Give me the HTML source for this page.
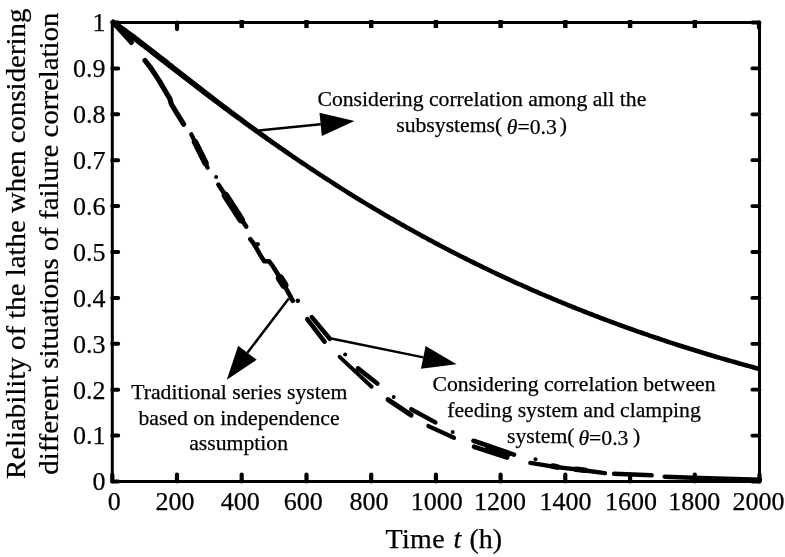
<!DOCTYPE html>
<html><head><meta charset="utf-8"><title>Reliability of the lathe</title>
<style>html,body{margin:0;padding:0;background:#fff}svg{display:block}text{font-family:"Liberation Serif",serif;fill:#000;stroke:#000;stroke-width:0.25px}</style></head>
<body>
<svg width="785" height="557" viewBox="0 0 785 557">
<rect width="785" height="557" fill="#fff"/>
<rect x="112.3" y="22.5" width="647.2" height="459.0" fill="none" stroke="#000" stroke-width="3"/>
<path d="M112.3 481.5 V474.6 M177.0 481.5 V474.6 M177.0 22.5 V29.1 M241.7 481.5 V474.6 M306.5 481.5 V474.6 M371.2 481.5 V474.6 M435.9 481.5 V474.6 M500.6 481.5 V474.6 M565.3 481.5 V474.6 M630.1 481.5 V474.6 M694.8 481.5 V474.6 M759.5 481.5 V474.6 M759.0 22.5 V27.7" stroke="#000" stroke-width="4.2" stroke-linecap="round" fill="none"/>
<path d="M112.3 481.5 H118.2 M112.3 435.6 H118.2 M112.3 389.7 H118.2 M112.3 343.8 H118.2 M112.3 297.9 H118.2 M112.3 252.0 H118.2 M112.3 206.1 H118.2 M112.3 160.2 H118.2 M112.3 114.3 H118.2 M112.3 68.4 H118.2 M112.3 22.5 H118.2" stroke="#000" stroke-width="4" stroke-linecap="round" fill="none"/>
<path d="M759.5 481.5 H752.3 M759.5 435.6 H752.3 M759.5 389.7 H752.3 M759.5 343.8 H752.3 M759.5 297.9 H752.3 M759.5 252.0 H752.3 M759.5 206.1 H752.3 M759.5 160.2 H752.3 M759.5 114.3 H752.3 M759.5 68.4 H752.3 M759.5 22.5 H752.3" stroke="#000" stroke-width="3.8" stroke-linecap="round" fill="none"/>
<path d="M241.7 20.1 V27.9 M306.5 20.1 V27.9 M371.2 20.1 V27.9 M435.9 20.1 V27.9 M500.6 20.1 V27.9 M565.3 20.1 V27.9 M630.1 20.1 V27.9 M694.8 20.1 V27.9" stroke="#000" stroke-width="4.4" fill="none"/>
<g font-size="26px" text-anchor="middle">
<text x="114.3" y="510.1">0</text>
<text x="174.9" y="510.1">200</text>
<text x="240.2" y="510.1">400</text>
<text x="303.3" y="510.1">600</text>
<text x="369.1" y="510.1">800</text>
<text x="436.8" y="510.1">1000</text>
<text x="499.9" y="510.1">1200</text>
<text x="565.6" y="510.1">1400</text>
<text x="631.0" y="510.1">1600</text>
<text x="694.2" y="510.1">1800</text>
<text x="758.6" y="510.1">2000</text>
</g>
<g font-size="26px" text-anchor="end">
<text x="105.4" y="490.3">0</text>
<text x="105.4" y="444.4">0.1</text>
<text x="105.4" y="398.5">0.2</text>
<text x="105.4" y="352.6">0.3</text>
<text x="105.4" y="306.7">0.4</text>
<text x="105.4" y="260.8">0.5</text>
<text x="105.4" y="214.9">0.6</text>
<text x="105.4" y="169.0">0.7</text>
<text x="105.4" y="123.1">0.8</text>
<text x="105.4" y="77.2">0.9</text>
<text x="105.4" y="31.3">1</text>
</g>
<text x="443.8" y="547.6" font-size="28px" word-spacing="1.3px" text-anchor="middle"><tspan letter-spacing="0.4px">Time</tspan> <tspan font-style="italic">t</tspan> (h)</text>
<text transform="translate(24.8 243.85) rotate(-90)" font-size="28px" text-anchor="middle" textLength="470.4" lengthAdjust="spacingAndGlyphs">Reliability of the lathe when considering</text>
<text transform="translate(58.0 243.65) rotate(-90)" font-size="28px" text-anchor="middle" textLength="462.2" lengthAdjust="spacingAndGlyphs">different situations of failure correlation</text>
<polygon points="110.9,25.1 112.4,25.9 113.9,26.9 115.5,27.9 117.1,29.0 118.7,30.1 120.3,31.2 121.9,32.4 123.5,33.5 125.1,34.7 126.7,35.9 128.3,37.1 129.9,38.3 131.6,39.5 133.2,40.7 134.8,42.0 136.4,43.2 138.0,44.4 139.6,45.7 141.2,46.9 142.9,48.1 144.5,49.4 146.1,50.6 147.7,51.9 149.3,53.1 150.9,54.4 152.6,55.7 154.2,56.9 155.8,58.2 157.4,59.4 159.0,60.7 160.6,62.0 162.3,63.2 163.9,64.5 165.5,65.8 167.1,67.0 168.7,68.3 170.4,69.5 172.0,70.8 173.6,72.1 175.2,73.3 176.9,74.6 178.5,75.8 180.1,77.1 181.7,78.3 183.3,79.6 185.0,80.8 186.6,82.1 188.2,83.3 189.8,84.6 191.5,85.8 193.1,87.1 194.7,88.3 196.3,89.5 198.0,90.8 199.6,92.0 201.2,93.3 202.8,94.5 204.5,95.7 206.1,97.0 207.7,98.2 209.3,99.4 211.0,100.6 212.6,101.9 214.2,103.1 215.8,104.3 217.5,105.5 219.1,106.7 220.7,107.9 222.3,109.2 224.0,110.4 225.6,111.6 227.2,112.8 228.8,114.0 230.5,115.2 232.1,116.4 233.7,117.6 235.3,118.8 237.0,119.9 238.6,121.1 240.2,122.3 241.8,123.5 243.5,124.7 245.1,125.9 246.7,127.0 248.3,128.2 250.0,129.4 251.6,130.6 253.2,131.7 254.8,132.9 256.5,134.0 258.1,135.2 259.7,136.4 261.3,137.5 263.0,138.7 264.6,139.8 266.2,141.0 267.8,142.1 269.5,143.2 271.1,144.4 272.7,145.5 274.3,146.6 276.0,147.8 277.6,148.9 279.2,150.0 280.8,151.1 282.5,152.3 284.1,153.4 285.7,154.5 287.3,155.6 289.0,156.7 290.6,157.8 292.2,158.9 293.8,160.0 295.5,161.1 297.1,162.2 298.7,163.3 300.3,164.4 301.9,165.5 303.6,166.6 305.2,167.6 306.8,168.7 308.4,169.8 310.0,170.9 311.7,172.0 313.3,173.0 314.9,174.1 316.5,175.2 318.1,176.2 319.8,177.3 321.4,178.3 323.0,179.4 324.6,180.4 326.2,181.5 327.9,182.5 329.5,183.6 331.1,184.6 332.7,185.7 334.3,186.7 336.0,187.7 337.6,188.8 339.2,189.8 340.8,190.8 342.4,191.8 344.1,192.8 345.7,193.9 347.3,194.9 348.9,195.9 350.6,196.9 352.2,197.9 353.8,198.9 355.4,199.9 357.0,200.9 358.7,201.9 360.3,202.9 361.9,203.8 363.5,204.8 365.1,205.8 366.8,206.8 368.4,207.8 370.0,208.7 371.6,209.7 373.2,210.7 374.9,211.6 376.5,212.6 378.1,213.6 379.7,214.5 381.3,215.5 383.0,216.4 384.6,217.4 386.2,218.3 387.8,219.2 389.4,220.2 391.1,221.1 392.7,222.1 394.3,223.0 395.9,223.9 397.5,224.8 399.2,225.8 400.8,226.7 402.4,227.6 404.0,228.5 405.7,229.4 407.3,230.3 408.9,231.2 410.5,232.1 412.1,233.0 413.8,233.9 415.4,234.8 417.0,235.7 418.6,236.6 420.2,237.5 421.9,238.4 423.5,239.3 425.1,240.1 426.7,241.0 428.3,241.9 430.0,242.8 431.6,243.6 433.2,244.5 434.8,245.4 436.4,246.2 438.1,247.1 439.7,247.9 441.3,248.8 442.9,249.6 444.5,250.5 446.2,251.3 447.8,252.2 449.4,253.0 451.0,253.8 452.6,254.7 454.3,255.5 455.9,256.3 457.5,257.1 459.1,258.0 460.8,258.8 462.4,259.6 464.0,260.4 465.6,261.2 467.2,262.0 468.9,262.8 470.5,263.7 472.1,264.5 473.7,265.3 475.3,266.0 477.0,266.8 478.6,267.6 480.2,268.4 481.8,269.2 483.4,270.0 485.1,270.8 486.7,271.6 488.3,272.3 489.9,273.1 491.5,273.9 493.2,274.6 494.8,275.4 496.4,276.2 498.0,276.9 499.6,277.7 501.3,278.5 502.9,279.2 504.5,280.0 506.1,280.7 507.7,281.5 509.4,282.2 511.0,282.9 512.6,283.7 514.2,284.4 515.9,285.2 517.5,285.9 519.1,286.6 520.7,287.3 522.3,288.1 524.0,288.8 525.6,289.5 527.2,290.2 528.8,290.9 530.4,291.7 532.1,292.4 533.7,293.1 535.3,293.8 536.9,294.5 538.5,295.2 540.2,295.9 541.8,296.6 543.4,297.3 545.0,298.0 546.6,298.7 548.3,299.3 549.9,300.0 551.5,300.7 553.1,301.4 554.7,302.1 556.4,302.7 558.0,303.4 559.6,304.1 561.2,304.8 562.8,305.4 564.5,306.1 566.1,306.8 567.7,307.4 569.3,308.1 571.0,308.7 572.6,309.4 574.2,310.0 575.8,310.7 577.4,311.3 579.1,312.0 580.7,312.6 582.3,313.3 583.9,313.9 585.5,314.5 587.2,315.2 588.8,315.8 590.4,316.4 592.0,317.1 593.6,317.7 595.3,318.3 596.9,318.9 598.5,319.5 600.1,320.2 601.7,320.8 603.4,321.4 605.0,322.0 606.6,322.6 608.2,323.2 609.8,323.8 611.5,324.4 613.1,325.0 614.7,325.6 616.3,326.2 617.9,326.8 619.6,327.4 621.2,328.0 622.8,328.6 624.4,329.2 626.0,329.7 627.7,330.3 629.3,330.9 630.9,331.5 632.5,332.1 634.1,332.6 635.8,333.2 637.4,333.8 639.0,334.3 640.6,334.9 642.2,335.5 643.9,336.0 645.5,336.6 647.1,337.1 648.7,337.7 650.4,338.3 652.0,338.8 653.6,339.4 655.2,339.9 656.8,340.5 658.5,341.0 660.1,341.5 661.7,342.1 663.3,342.6 664.9,343.2 666.6,343.7 668.2,344.2 669.8,344.8 671.4,345.3 673.0,345.8 674.7,346.3 676.3,346.9 677.9,347.4 679.5,347.9 681.1,348.4 682.8,348.9 684.4,349.5 686.0,350.0 687.6,350.5 689.2,351.0 690.9,351.5 692.5,352.0 694.1,352.5 695.7,353.0 697.3,353.5 699.0,354.0 700.6,354.5 702.2,355.0 703.8,355.5 705.4,356.0 707.1,356.5 708.7,357.0 710.3,357.4 711.9,357.9 713.5,358.4 715.2,358.9 716.8,359.4 718.4,359.8 720.0,360.3 721.6,360.8 723.3,361.3 724.9,361.7 726.5,362.2 728.1,362.7 729.7,363.1 731.4,363.6 733.0,364.1 734.6,364.5 736.2,365.0 737.8,365.4 739.5,365.9 741.1,366.3 742.7,366.8 744.3,367.3 745.9,367.7 747.6,368.1 749.2,368.6 750.8,369.0 752.4,369.5 754.0,369.9 755.7,370.4 757.3,370.8 758.9,371.2 760.1,366.8 758.5,366.4 756.9,365.9 755.2,365.5 753.6,365.0 752.0,364.6 750.4,364.2 748.8,363.7 747.2,363.3 745.6,362.8 743.9,362.4 742.3,361.9 740.7,361.5 739.1,361.0 737.5,360.6 735.9,360.1 734.2,359.6 732.6,359.2 731.0,358.7 729.4,358.3 727.8,357.8 726.2,357.3 724.5,356.8 722.9,356.4 721.3,355.9 719.7,355.4 718.1,355.0 716.5,354.5 714.9,354.0 713.2,353.5 711.6,353.0 710.0,352.5 708.4,352.1 706.8,351.6 705.2,351.1 703.5,350.6 701.9,350.1 700.3,349.6 698.7,349.1 697.1,348.6 695.5,348.1 693.8,347.6 692.2,347.1 690.6,346.6 689.0,346.1 687.4,345.6 685.8,345.1 684.2,344.6 682.5,344.0 680.9,343.5 679.3,343.0 677.7,342.5 676.1,342.0 674.5,341.4 672.8,340.9 671.2,340.4 669.6,339.9 668.0,339.3 666.4,338.8 664.8,338.3 663.1,337.7 661.5,337.2 659.9,336.6 658.3,336.1 656.7,335.5 655.1,335.0 653.5,334.5 651.8,333.9 650.2,333.4 648.6,332.8 647.0,332.2 645.4,331.7 643.8,331.1 642.1,330.6 640.5,330.0 638.9,329.4 637.3,328.9 635.7,328.3 634.1,327.7 632.4,327.1 630.8,326.6 629.2,326.0 627.6,325.4 626.0,324.8 624.4,324.2 622.8,323.7 621.1,323.1 619.5,322.5 617.9,321.9 616.3,321.3 614.7,320.7 613.1,320.1 611.4,319.5 609.8,318.9 608.2,318.3 606.6,317.7 605.0,317.1 603.4,316.5 601.8,315.9 600.1,315.2 598.5,314.6 596.9,314.0 595.3,313.4 593.7,312.8 592.1,312.1 590.4,311.5 588.8,310.9 587.2,310.2 585.6,309.6 584.0,309.0 582.4,308.3 580.8,307.7 579.1,307.1 577.5,306.4 575.9,305.8 574.3,305.1 572.7,304.5 571.1,303.8 569.4,303.2 567.8,302.5 566.2,301.8 564.6,301.2 563.0,300.5 561.4,299.8 559.7,299.2 558.1,298.5 556.5,297.8 554.9,297.2 553.3,296.5 551.7,295.8 550.1,295.1 548.4,294.4 546.8,293.7 545.2,293.0 543.6,292.4 542.0,291.7 540.4,291.0 538.7,290.3 537.1,289.6 535.5,288.9 533.9,288.2 532.3,287.4 530.7,286.7 529.1,286.0 527.4,285.3 525.8,284.6 524.2,283.9 522.6,283.1 521.0,282.4 519.4,281.7 517.7,281.0 516.1,280.2 514.5,279.5 512.9,278.8 511.3,278.0 509.7,277.3 508.1,276.5 506.4,275.8 504.8,275.0 503.2,274.3 501.6,273.5 500.0,272.8 498.4,272.0 496.7,271.3 495.1,270.5 493.5,269.7 491.9,269.0 490.3,268.2 488.7,267.4 487.1,266.6 485.4,265.9 483.8,265.1 482.2,264.3 480.6,263.5 479.0,262.7 477.4,261.9 475.7,261.1 474.1,260.3 472.5,259.5 470.9,258.7 469.3,257.9 467.7,257.1 466.1,256.3 464.4,255.5 462.8,254.7 461.2,253.9 459.6,253.0 458.0,252.2 456.4,251.4 454.7,250.6 453.1,249.7 451.5,248.9 449.9,248.1 448.3,247.2 446.7,246.4 445.1,245.5 443.4,244.7 441.8,243.9 440.2,243.0 438.6,242.1 437.0,241.3 435.4,240.4 433.7,239.6 432.1,238.7 430.5,237.8 428.9,237.0 427.3,236.1 425.7,235.2 424.1,234.3 422.4,233.5 420.8,232.6 419.2,231.7 417.6,230.8 416.0,229.9 414.4,229.0 412.7,228.1 411.1,227.2 409.5,226.3 407.9,225.4 406.3,224.5 404.7,223.6 403.1,222.7 401.4,221.8 399.8,220.8 398.2,219.9 396.6,219.0 395.0,218.1 393.4,217.1 391.7,216.2 390.1,215.3 388.5,214.3 386.9,213.4 385.3,212.4 383.7,211.5 382.1,210.5 380.4,209.6 378.8,208.6 377.2,207.7 375.6,206.7 374.0,205.8 372.4,204.8 370.7,203.8 369.1,202.9 367.5,201.9 365.9,200.9 364.3,199.9 362.7,198.9 361.1,197.9 359.4,197.0 357.8,196.0 356.2,195.0 354.6,194.0 353.0,193.0 351.4,192.0 349.7,191.0 348.1,190.0 346.5,188.9 344.9,187.9 343.3,186.9 341.7,185.9 340.1,184.9 338.4,183.8 336.8,182.8 335.2,181.8 333.6,180.7 332.0,179.7 330.4,178.7 328.7,177.6 327.1,176.6 325.5,175.5 323.9,174.5 322.3,173.4 320.7,172.4 319.0,171.3 317.4,170.2 315.8,169.2 314.2,168.1 312.6,167.0 311.0,166.0 309.4,164.9 307.7,163.8 306.1,162.7 304.5,161.6 302.9,160.6 301.3,159.5 299.7,158.4 298.1,157.3 296.4,156.2 294.8,155.0 293.2,153.9 291.6,152.8 290.0,151.7 288.4,150.6 286.8,149.5 285.2,148.3 283.6,147.2 281.9,146.1 280.3,144.9 278.7,143.8 277.1,142.7 275.5,141.5 273.9,140.4 272.3,139.2 270.7,138.1 269.1,136.9 267.4,135.8 265.8,134.6 264.2,133.5 262.6,132.3 261.0,131.1 259.4,130.0 257.8,128.8 256.2,127.6 254.6,126.4 252.9,125.3 251.3,124.1 249.7,122.9 248.1,121.7 246.5,120.5 244.9,119.3 243.3,118.1 241.7,117.0 240.1,115.8 238.4,114.6 236.8,113.4 235.2,112.1 233.6,110.9 232.0,109.7 230.4,108.5 228.8,107.3 227.2,106.1 225.6,104.9 223.9,103.6 222.3,102.4 220.7,101.2 219.1,100.0 217.5,98.7 215.9,97.5 214.3,96.3 212.7,95.0 211.0,93.8 209.4,92.6 207.8,91.3 206.2,90.1 204.6,88.8 203.0,87.6 201.4,86.3 199.8,85.1 198.2,83.8 196.5,82.6 194.9,81.3 193.3,80.1 191.7,78.8 190.1,77.6 188.5,76.3 186.9,75.0 185.3,73.8 183.6,72.5 182.0,71.2 180.4,70.0 178.8,68.7 177.2,67.4 175.6,66.2 174.0,64.9 172.4,63.6 170.7,62.4 169.1,61.1 167.5,59.8 165.9,58.6 164.3,57.3 162.7,56.1 161.0,54.8 159.4,53.5 157.8,52.3 156.2,51.0 154.6,49.7 152.9,48.5 151.3,47.2 149.7,46.0 148.1,44.7 146.5,43.5 144.8,42.2 143.2,41.0 141.6,39.7 140.0,38.5 138.4,37.3 136.7,36.0 135.1,34.8 133.5,33.6 131.9,32.4 130.2,31.2 128.6,30.0 127.0,28.8 125.3,27.6 123.7,26.4 122.1,25.3 120.4,24.1 118.8,23.0 117.1,21.9 115.4,20.8 113.7,19.9" fill="#000"/>
<polyline points="113,22 131.5,42.5" fill="none" stroke="#000" stroke-width="5.0" stroke-linecap="round" stroke-linejoin="round"/>
<polyline points="145,60.5 150,66.8 159.2,80.6 166.3,92.8 169.8,98.5 171.5,104.5 183.6,124.2" fill="none" stroke="#000" stroke-width="5.2" stroke-linecap="round" stroke-linejoin="round"/>
<polyline points="191.3,134.4 207.6,167.6" fill="none" stroke="#000" stroke-width="4.4" stroke-linecap="round" stroke-linejoin="round"/>
<polyline points="195,142 205.5,163" fill="none" stroke="#000" stroke-width="6.4" stroke-linecap="round" stroke-linejoin="round"/>
<circle cx="216.1" cy="177.1" r="2.0" fill="#000"/>
<polyline points="218.3,184.6 246.2,226.6" fill="none" stroke="#000" stroke-width="4.6" stroke-linecap="round" stroke-linejoin="round"/>
<polyline points="225.5,195.5 241,219.5" fill="none" stroke="#000" stroke-width="7.6" stroke-linecap="round" stroke-linejoin="round"/>
<polyline points="250.3,239.2 253.7,243.6 257,249.2 260.2,254.9 264.2,261.3 269.1,261.3 272.3,265.4 276.3,271.8 280.4,278.3 284.4,285.6 288.5,292.9 292.8,300.8" fill="none" stroke="#000" stroke-width="4.6" stroke-linecap="round" stroke-linejoin="round"/>
<polyline points="280,278.3 284.3,285" fill="none" stroke="#000" stroke-width="8.2" stroke-linecap="round" stroke-linejoin="round"/>
<circle cx="257.6" cy="244.3" r="2.3" fill="#000"/>
<circle cx="297.8" cy="300.7" r="2.3" fill="#000"/>
<polyline points="307.2,319.2 324.5,341.6" fill="none" stroke="#000" stroke-width="4.6" stroke-linecap="round" stroke-linejoin="round"/>
<polyline points="311.8,317.1 329.8,338.8" fill="none" stroke="#000" stroke-width="4.6" stroke-linecap="round" stroke-linejoin="round"/>
<circle cx="345.2" cy="354.5" r="2.0" fill="#000"/>
<polyline points="339.6,356.9 371.6,386.7" fill="none" stroke="#000" stroke-width="4.0" stroke-linecap="round" stroke-linejoin="round"/>
<polyline points="358.0,368.4 377.3,383.5" fill="none" stroke="#000" stroke-width="4.7" stroke-linecap="round" stroke-linejoin="round"/>
<circle cx="393.7" cy="397.1" r="2.0" fill="#000"/>
<polyline points="388,399.6 411.2,415.1" fill="none" stroke="#000" stroke-width="4.9" stroke-linecap="round" stroke-linejoin="round"/>
<polyline points="411.2,409.2 435.4,422.4" fill="none" stroke="#000" stroke-width="4.4" stroke-linecap="round" stroke-linejoin="round"/>
<polyline points="428.4,426.1 454,437.8" fill="none" stroke="#000" stroke-width="4.3" stroke-linecap="round" stroke-linejoin="round"/>
<circle cx="452.7" cy="432" r="2.0" fill="#000"/>
<polyline points="473.5,440.8 514,454.6" fill="none" stroke="#000" stroke-width="4.6" stroke-linecap="round" stroke-linejoin="round"/>
<polyline points="474,446.7 507,457.6" fill="none" stroke="#000" stroke-width="4.6" stroke-linecap="round" stroke-linejoin="round"/>
<polyline points="487,448.3 508,455.6" fill="none" stroke="#000" stroke-width="4.0" stroke-linecap="round" stroke-linejoin="round"/>
<polyline points="530.3,462.8 555,466.9 581.5,470 605,473.1" fill="none" stroke="#000" stroke-width="4.3" stroke-linecap="round" stroke-linejoin="round"/>
<polyline points="553,466.2 557.5,467" fill="none" stroke="#000" stroke-width="5.8" stroke-linecap="round" stroke-linejoin="round"/>
<polyline points="576,469.2 585,470.3" fill="none" stroke="#000" stroke-width="5.6" stroke-linecap="round" stroke-linejoin="round"/>
<circle cx="535.5" cy="459.2" r="2.0" fill="#000"/>
<polyline points="614.1,473.8 651.7,475.2" fill="none" stroke="#000" stroke-width="4.5" stroke-linecap="round" stroke-linejoin="round"/>
<polyline points="664.7,476.7 700,478 760,479.7" fill="none" stroke="#000" stroke-width="4.5" stroke-linecap="round" stroke-linejoin="round"/>
<line x1="258.5" y1="130.4" x2="320.7" y2="124.3" stroke="#000" stroke-width="2.5"/><polygon points="354.5,121.0 321.8,135.9 319.5,112.8" fill="#000"/>
<line x1="288.8" y1="298.6" x2="247.4" y2="352.8" stroke="#000" stroke-width="2.5"/><polygon points="226.8,379.8 238.2,345.7 256.7,359.8" fill="#000"/>
<line x1="331.2" y1="338.5" x2="423.3" y2="357.4" stroke="#000" stroke-width="2.5"/><polygon points="456.6,364.2 421.0,368.7 425.6,346.0" fill="#000"/>
<g font-size="21.7px" text-anchor="middle"><text x="481.9" y="106.0">Considering correlation among all the</text><text x="481.55" y="131.9">subsystems(<tspan dx="-0.9" dy="1.9" font-style="italic"> θ</tspan><tspan>=0.3</tspan><tspan dx="-2.6" dy="-1.9"> )</tspan></text></g>
<g font-size="21.7px" text-anchor="middle"><text x="239.3" y="399.2">Traditional series system</text><text x="239" y="424.6">based on independence</text><text x="238.6" y="450.4">assumption</text></g>
<g font-size="21.7px" text-anchor="middle"><text x="574" y="391.3">Considering correlation between</text><text x="574.0" y="416.8">feeding system and clamping</text><text x="573.6" y="442.9">system(<tspan dx="-1.5" dy="1.9" font-style="italic"> θ</tspan><tspan>=0.3</tspan><tspan dx="-0.9" dy="-1.9"> )</tspan></text></g>
</svg>
</body></html>
